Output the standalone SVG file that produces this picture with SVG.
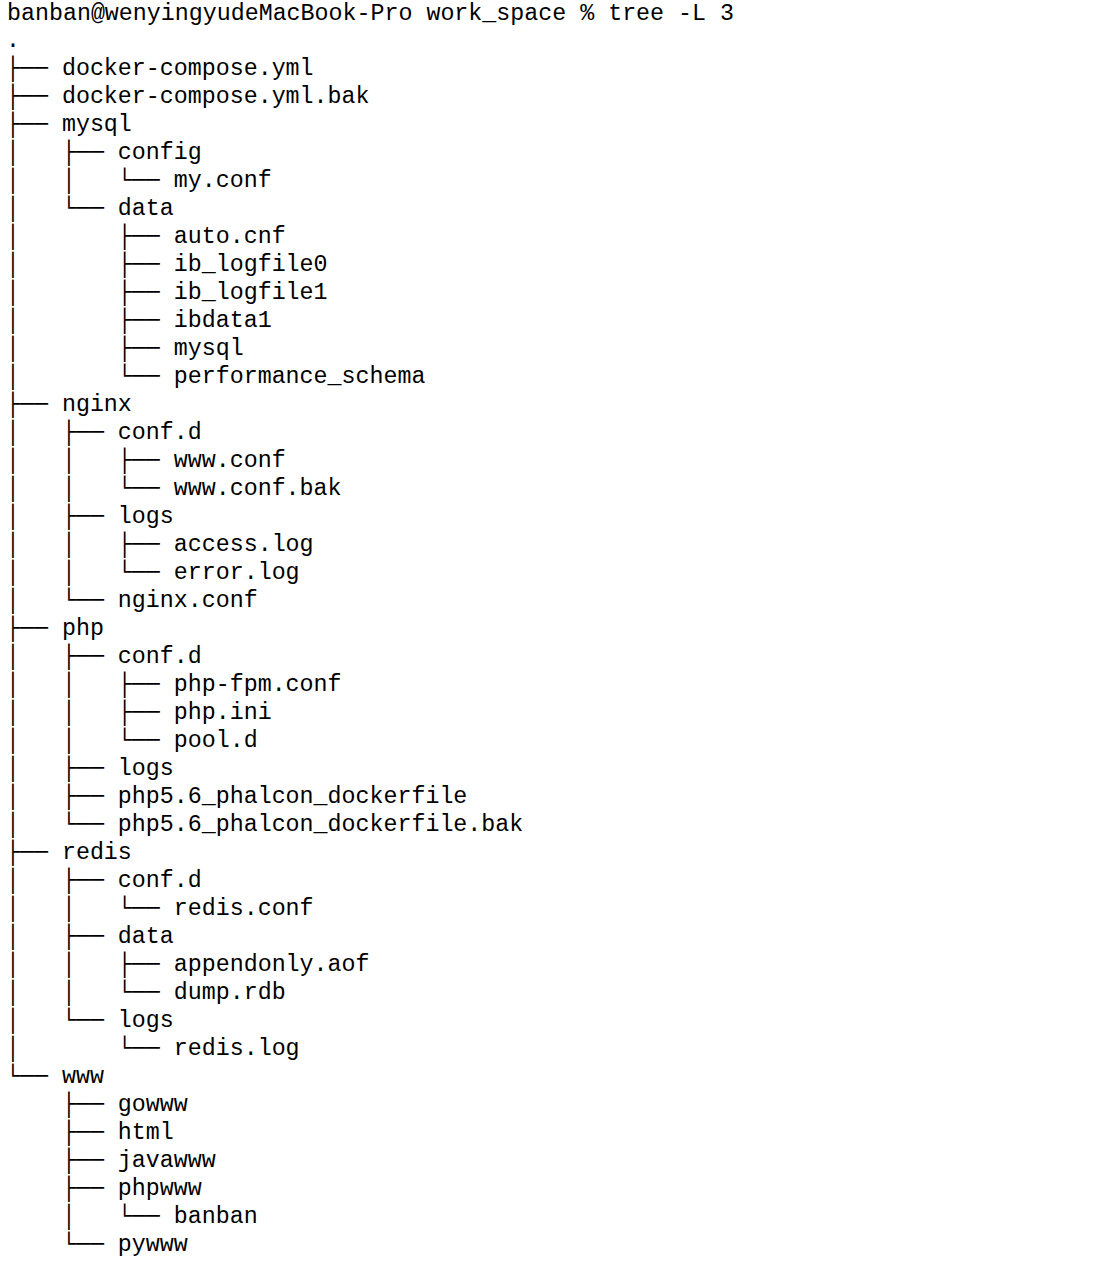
<svg xmlns="http://www.w3.org/2000/svg" width="1118" height="1284" viewBox="0 0 1118 1284">
<style>text{font-family:"Liberation Mono","DejaVu Sans Mono",monospace;font-size:23.3px;fill:#000;white-space:pre}</style>
<rect width="1118" height="1284" fill="#fff"/>
<text x="7" y="20">banban@wenyingyudeMacBook-Pro work_space % tree -L 3</text>
<text x="6" y="47">.</text>
<text x="6" y="75" xml:space="preserve">├── docker-compose.yml</text>
<text x="6" y="103" xml:space="preserve">├── docker-compose.yml.bak</text>
<text x="6" y="131" xml:space="preserve">├── mysql</text>
<text x="6" y="159" xml:space="preserve">│   ├── config</text>
<text x="6" y="187" xml:space="preserve">│   │   └── my.conf</text>
<text x="6" y="215" xml:space="preserve">│   └── data</text>
<text x="6" y="243" xml:space="preserve">│       ├── auto.cnf</text>
<text x="6" y="271" xml:space="preserve">│       ├── ib_logfile0</text>
<text x="6" y="299" xml:space="preserve">│       ├── ib_logfile1</text>
<text x="6" y="327" xml:space="preserve">│       ├── ibdata1</text>
<text x="6" y="355" xml:space="preserve">│       ├── mysql</text>
<text x="6" y="383" xml:space="preserve">│       └── performance_schema</text>
<text x="6" y="411" xml:space="preserve">├── nginx</text>
<text x="6" y="439" xml:space="preserve">│   ├── conf.d</text>
<text x="6" y="467" xml:space="preserve">│   │   ├── www.conf</text>
<text x="6" y="495" xml:space="preserve">│   │   └── www.conf.bak</text>
<text x="6" y="523" xml:space="preserve">│   ├── logs</text>
<text x="6" y="551" xml:space="preserve">│   │   ├── access.log</text>
<text x="6" y="579" xml:space="preserve">│   │   └── error.log</text>
<text x="6" y="607" xml:space="preserve">│   └── nginx.conf</text>
<text x="6" y="635" xml:space="preserve">├── php</text>
<text x="6" y="663" xml:space="preserve">│   ├── conf.d</text>
<text x="6" y="691" xml:space="preserve">│   │   ├── php-fpm.conf</text>
<text x="6" y="719" xml:space="preserve">│   │   ├── php.ini</text>
<text x="6" y="747" xml:space="preserve">│   │   └── pool.d</text>
<text x="6" y="775" xml:space="preserve">│   ├── logs</text>
<text x="6" y="803" xml:space="preserve">│   ├── php5.6_phalcon_dockerfile</text>
<text x="6" y="831" xml:space="preserve">│   └── php5.6_phalcon_dockerfile.bak</text>
<text x="6" y="859" xml:space="preserve">├── redis</text>
<text x="6" y="887" xml:space="preserve">│   ├── conf.d</text>
<text x="6" y="915" xml:space="preserve">│   │   └── redis.conf</text>
<text x="6" y="943" xml:space="preserve">│   ├── data</text>
<text x="6" y="971" xml:space="preserve">│   │   ├── appendonly.aof</text>
<text x="6" y="999" xml:space="preserve">│   │   └── dump.rdb</text>
<text x="6" y="1027" xml:space="preserve">│   └── logs</text>
<text x="6" y="1055" xml:space="preserve">│       └── redis.log</text>
<text x="6" y="1083" xml:space="preserve">└── www</text>
<text x="6" y="1111" xml:space="preserve">    ├── gowww</text>
<text x="6" y="1139" xml:space="preserve">    ├── html</text>
<text x="6" y="1167" xml:space="preserve">    ├── javawww</text>
<text x="6" y="1195" xml:space="preserve">    ├── phpwww</text>
<text x="6" y="1223" xml:space="preserve">    │   └── banban</text>
<text x="6" y="1251" xml:space="preserve">    └── pywww</text>
</svg>
